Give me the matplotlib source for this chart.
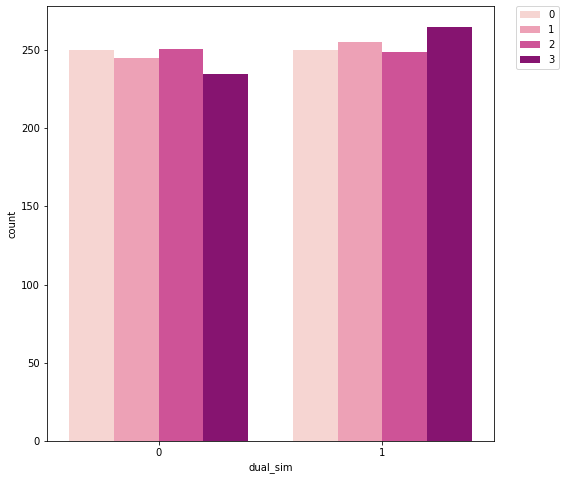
import numpy as np
import matplotlib
matplotlib.use('Agg')
import matplotlib.pyplot as plt
import seaborn as sns

dual_sim = ['0', '1']
price_range = ['0', '1', '2', '3']
# counts[price_range][dual_sim]
counts = [
    [250, 250],
    [245, 255],
    [251, 249],
    [235, 265],
]

# countplot draws with saturation=.75
colors = [sns.desaturate(c, 0.75) for c in sns.color_palette('RdPu', len(price_range))]

fig = plt.figure(figsize=(565 / 72, 481 / 72), dpi=72)
ax = fig.add_axes([47 / 565, 1 - 441 / 481, (494 - 47) / 565, (441 - 6) / 481])

width = 0.8 / len(price_range)
x = np.arange(len(dual_sim))
for i, (label, vals) in enumerate(zip(price_range, counts)):
    offset = -0.4 + width * (i + 0.5)
    ax.bar(x + offset, vals, width=width, color=colors[i], label=label)

ax.set_xticks(x)
ax.set_xticklabels(dual_sim)
ax.set_xlim(-0.5, len(dual_sim) - 0.5)
ax.set_xlabel('dual_sim')
ax.set_ylabel('count')
ax.legend(bbox_to_anchor=(1.05, 1), loc=2, borderaxespad=0.)

fig.savefig('out.png', dpi=72)
